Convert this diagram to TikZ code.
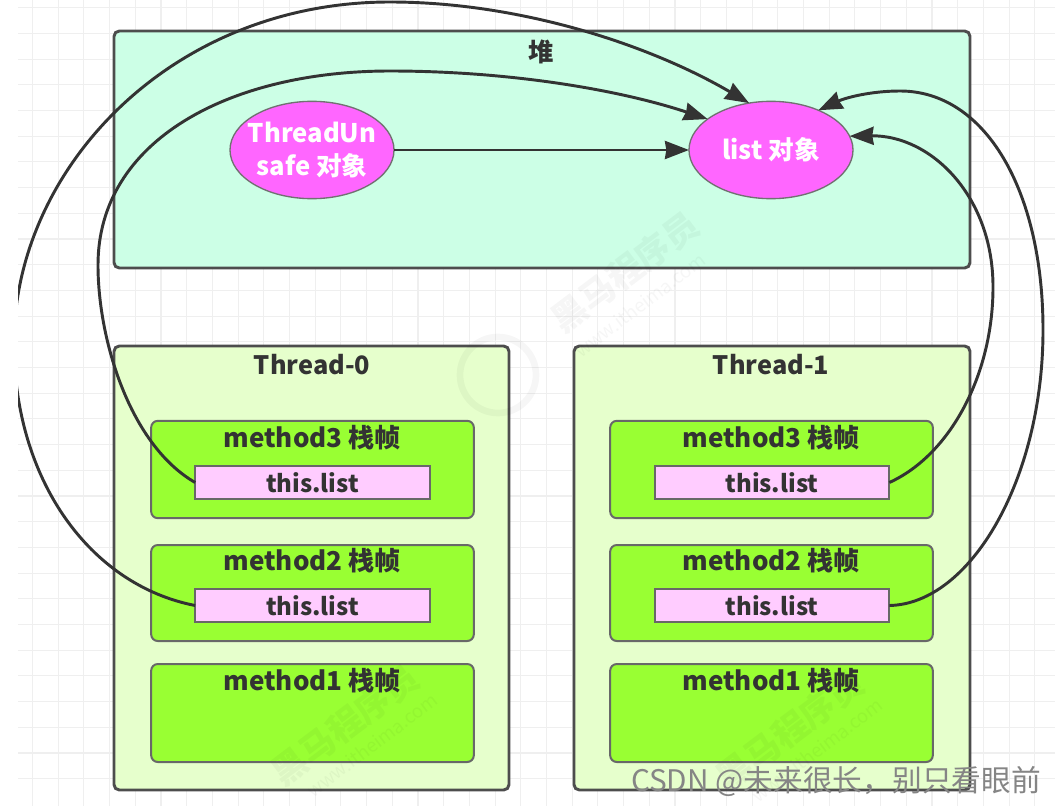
\documentclass[tikz,border=0pt]{standalone}
\usepackage{fontspec}
\setmainfont{Noto Sans CJK SC}
\usetikzlibrary{arrows.meta,shapes.geometric}
\definecolor{edgec}{HTML}{4D4D4D}
\definecolor{inkc}{HTML}{333333}
\definecolor{heapc}{HTML}{CCFFE6}
\definecolor{threadc}{HTML}{E6FFCC}
\definecolor{framec}{HTML}{99FF33}
\definecolor{refc}{HTML}{FFCCFF}
\definecolor{objc}{HTML}{FF66FF}
\definecolor{gridc}{HTML}{EFEFEF}
\tikzset{
  x=0.75pt,y=-0.75pt,
  outerbox/.style={draw=edgec,line width=2.2pt,rounded corners=4pt,inner sep=0,outer sep=0},
  framebox/.style={draw=edgec!85,fill=framec,line width=1.5pt,rounded corners=5pt,minimum width=242pt,inner sep=0,outer sep=0},
  refbox/.style={draw=edgec!85,fill=refc,line width=1.5pt,minimum width=176pt,minimum height=24.5pt,inner sep=0,outer sep=0,text=inkc,font=\fontsize{18}{20}\selectfont\bfseries},
  objnode/.style={ellipse,draw=edgec!80,fill=objc,line width=1pt,minimum width=123pt,minimum height=73pt,inner sep=0,outer sep=0},
  objtext/.style={text=white,font=\fontsize{19.2}{25}\selectfont\bfseries,align=center,inner sep=0},
  title/.style={text=inkc,font=\fontsize{19}{20}\selectfont\bfseries,inner sep=0},
  frametitle/.style={text=inkc,font=\fontsize{19.5}{20}\selectfont\bfseries,inner sep=0},
  link/.style={draw=inkc,line width=2.2pt,-{Stealth[length=18pt,width=13.5pt,inset=1pt]}},
  wm/.style={text=black,opacity=0.035,font=\bfseries\fontsize{26}{28}\selectfont,rotate=37,inner sep=0},
  wmsmall/.style={text=black,opacity=0.035,font=\fontsize{14}{16}\selectfont,rotate=37,inner sep=0},
  stampin/.style={text=black!48,font=\fontsize{22.3}{24}\selectfont,inner sep=0},
}
\begin{document}
\begin{tikzpicture}
\useasboundingbox (0,0) rectangle (1055,806);
\fill[white] (0,0) rectangle (1055,806);
% grid paper
\begin{scope}[draw=gridc,line width=0.8pt]
  \foreach \k in {0,...,40} {\draw (32.5+25.7*\k,0) -- (32.5+25.7*\k,806);}
  \foreach \k in {0,...,30} {\draw (18,7.7+25.7*\k) -- (1055,7.7+25.7*\k);}
\end{scope}
% containers
\node[outerbox,fill=heapc,minimum width=642pt,minimum height=177.75pt] (heap) at (542,149.5) {};
\node[outerbox,fill=threadc,minimum width=296.25pt,minimum height=333pt] (t0) at (311.5,568) {};
\node[outerbox,fill=threadc,minimum width=297pt,minimum height=333pt] (t1) at (772,568) {};
\node[title] (heapt) at (541,52) {堆};
\node[title] (t0t) at (312,365) {Thread-0};
\node[title] (t1t) at (771,365) {Thread-1};
% frames, thread 0
\node[framebox,minimum height=73pt] (f03) at (312.5,469.5) {};
\node[framebox,minimum height=72pt] (f02) at (312.5,593) {};
\node[framebox,minimum height=73.5pt] (f01) at (312.5,713) {};
\node[frametitle] (f03t) at (312,438) {method3 栈帧};
\node[frametitle] (f02t) at (312,561) {method2 栈帧};
\node[frametitle] (f01t) at (312,681) {method1 栈帧};
\node[refbox] (r03) at (312.5,482.5) {this.list};
\node[refbox] (r02) at (312.5,605.5) {this.list};
% frames, thread 1
\node[framebox,minimum height=73pt] (f13) at (771.5,469.5) {};
\node[framebox,minimum height=72pt] (f12) at (771.5,593) {};
\node[framebox,minimum height=73.5pt] (f11) at (771.5,713) {};
\node[frametitle] (f13t) at (771,438) {method3 栈帧};
\node[frametitle] (f12t) at (771,561) {method2 栈帧};
\node[frametitle] (f11t) at (771,681) {method1 栈帧};
\node[refbox] (r13) at (772,482.5) {this.list};
\node[refbox] (r12) at (772,605.5) {this.list};
% objects
\node[objnode] (tsafe) at (312,150) {};
\node[objnode] (list) at (771,150) {};
\node[objtext] (tsafet) at (312,150) {ThreadUn\\safe 对象};
\node[objtext] (listt) at (771,150) {list 对象};
% faint site watermarks
\node[wm] (w1) at (625,272) {黑马程序员};
\node[wmsmall] (w2) at (640,305) {www.itheima.com};
\draw[black,opacity=0.035,line width=5pt] (498,375) circle (38);
\node[wm] (w3) at (345,725) {黑马程序员};
\node[wmsmall] (w4) at (372,745) {www.itheima.com};
\node[wm] (w5) at (790,730) {黑马程序员};
\node[wmsmall] (w6) at (817,750) {www.itheima.com};
% references
\draw[link] (tsafe.east) -- (list.west);
\draw[link] (r03.west) .. controls (130,445) and (98,340) .. (98,265)
  .. controls (98,140) and (230,71) .. (390,71)
  .. controls (510,71) and (620,90) .. (list.154);
\draw[link] (r02.west) .. controls (90,585) and (14,480) .. (14,343)
  .. controls (14,170) and (170,2) .. (390,2)
  .. controls (520,2) and (650,45) .. (list.115.6);
\draw[link] (r13.east) .. controls (950,455) and (993,375) .. (993,287)
  .. controls (993,195) and (930,135) .. (list.10);
\draw[link] (r12.east) .. controls (970,604) and (1043,480) .. (1043,330)
  .. controls (1043,190) and (985,91) .. (900,91)
  .. controls (870,91) and (845,98) .. (list.40);
% the image is cut off at the left
\fill[white] (0,0) rectangle (18,806);
% CSDN signature
\node[stampin] (csdn) at (836,781) {CSDN @未来很长，别只看眼前};
\end{tikzpicture}
\end{document}
